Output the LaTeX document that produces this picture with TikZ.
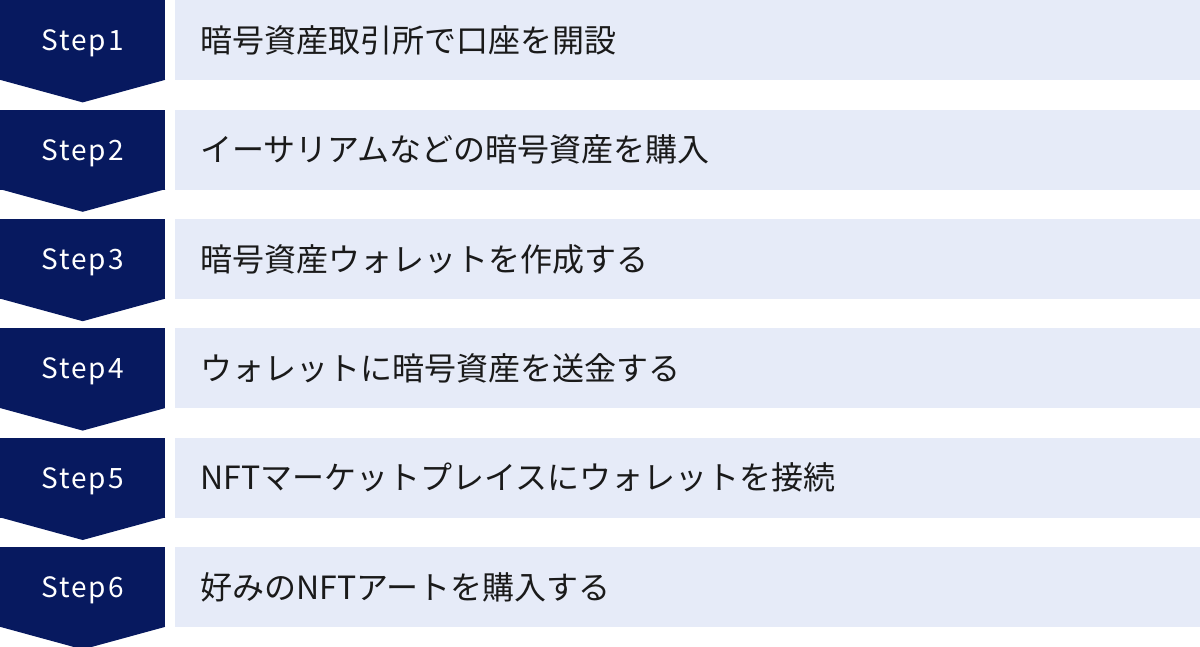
\documentclass[tikz,border=0pt]{standalone}
\usepackage{fontspec}
\setmainfont{Noto Sans}
\newfontfamily\jpfont{Noto Sans CJK JP}
\newfontfamily\stepfont[LetterSpace=7]{Noto Sans CJK JP}
\usetikzlibrary{positioning,calc}
\definecolor{navy}{HTML}{07195F}
\definecolor{pale}{HTML}{E6EBF8}
\definecolor{ink}{HTML}{1A1A1A}

\tikzset{
  stepbox/.style={rectangle, fill=navy, text=white, minimum width=165pt, minimum height=80pt, inner sep=0pt, text height=21pt, text depth=0pt, font=\stepfont\fontsize{28}{28}\selectfont},
  textbox/.style={rectangle, fill=pale, text=ink, minimum height=80pt, text width=974pt, inner xsep=26pt, inner ysep=0pt, align=left, font=\jpfont\fontsize{32}{32}\selectfont},
}

\begin{document}
\begin{tikzpicture}[x=1pt,y=1pt]
		\useasboundingbox (0,0) rectangle (1200,-647);
		
		\node[stepbox, anchor=north west] (s1) at (0,0) {Step1};
		\node[textbox, right=9pt of s1] (t1) {暗号資産取引所で口座を開設};
		
		\node[stepbox, below=29pt of s1] (s2) {Step2};
		\node[textbox, right=9pt of s2] (t2) {イーサリアムなどの暗号資産を購入};
		
		\node[stepbox, below=29pt of s2] (s3) {Step3};
		\node[textbox, right=9pt of s3] (t3) {暗号資産ウォレットを作成する};
		
		\node[stepbox, below=29pt of s3] (s4) {Step4};
		\node[textbox, right=9pt of s4] (t4) {ウォレットに暗号資産を送金する};
		
		\node[stepbox, below=29pt of s4] (s5) {Step5};
		\node[textbox, right=9pt of s5] (t5) {NFTマーケットプレイスにウォレットを接続};
		
		\node[stepbox, below=29pt of s5] (s6) {Step6};
		\node[textbox, right=9pt of s6] (t6) {好みのNFTアートを購入する};
		
		% arrow tips under the step boxes
		\foreach \s in {s1,s2,s3,s4,s5,s6}
		\fill[navy] ($(\s.south west)+(0,0.6)$) -- ($(\s.south east)+(0,0.6)$) -- ($(\s.south)+(0,-22)$) -- cycle;
	\end{tikzpicture}
\end{document}
